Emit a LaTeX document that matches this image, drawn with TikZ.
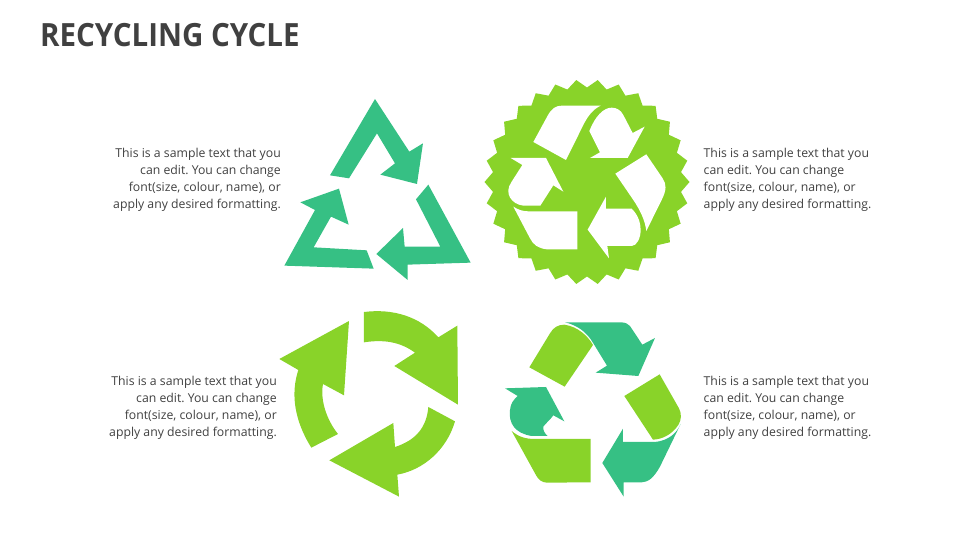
\documentclass[tikz,border=0pt]{standalone}
\usepackage{fontspec}
\setmainfont{Open Sans}
\newfontfamily\tieufont[FakeStretch=.922]{Open Sans}
\frenchspacing
\definecolor{xanh}{HTML}{36C084}
\definecolor{chanh}{HTML}{89D329}
\definecolor{chu}{HTML}{404040}
\newcommand{\mau}{This is a sample text that you\\can edit. You can change\\font(size, colour, name), or\\apply any desired formatting.}
\begin{document}
\begin{tikzpicture}[x=1pt,y=-1pt]
	\tikzset{
		every node/.style={font=\fontsize{12.25}{17}\selectfont,text=chu,inner sep=0},
		traitext/.style={anchor=east,align=right},
		phaitext/.style={anchor=west,align=left},
		%
		tamgiac/.pic={\fill[xanh] (300,27)--(403,185)--(444,160)--(426,282)--(316,254)--(360,220)--(306,130)--(222,265)--(165,256)--cycle
			(460,284)--(587,518)--(398,524)--(398,570)--(304,492)--(384,414)--(389,470)--(496,470)--(423,328)--cycle
			(28,527)--(120,360)--(76,337)--(192,296)--(221,404)--(168,380)--(116,472)--(275,481)--(296,536)--cycle;},
		% Huy hieu
		huyhieu/.pic={\fill[white] (160,201)--(203,122)..controls(215,100)and(228,92)..(245,92)--(362,92)..controls(335,105)and(320,130)..(310,150)--(258,255)--cycle
			(328,168)..controls(345,125)and(370,98)..(395,98)..controls(410,98)and(422,105)..(430,120)--(458,174)--(494,155)--(443,249)--(330,249)--(360,232)--cycle
			(406,296)--(499,238)--(548,310)..controls(560,328)and(560,345)..(545,375)--(499,468)..controls(495,435)and(480,405)..(460,375)--cycle
			(378,365)--(378,401)--(455,401)..controls(475,420)and(482,445)..(482,465)..controls(482,490)and(470,513)..(455,513)--(382,513)--(387,550)--(323,464)--cycle
			(100,395)..controls(115,405)and(130,409)..(145,409)--(292,409)--(292,523)--(200,523)..controls(175,520)and(160,510)..(150,490)--cycle
			(92,249)--(198,249)--(250,350)--(220,331)--(181,392)--(130,392)..controls(95,388)and(70,355)..(95,320)--(127,270)--cycle;},
		% Vong tron
		vongtron/.pic={\fill[chanh] (282,36)..controls(370,25)and(450,50)..(505,112)--(562,77)--(564,314)--(373,198)--(435,158)..controls(390,125)and(340,118)..(282,127)--cycle
			(28,177)--(237,63)--(222,286)--(159,252)..controls(150,300)and(170,360)..(204,402)--(124,443)..controls(72,360)and(62,280)..(85,210)--cycle
			(178,481)--(370,369)--(375,441)..controls(440,420)and(470,380)..(475,321)--(555,364)..controls(530,450)and(460,510)..(382,524)--(387,590)--cycle;},
		% Hai mau
		haimau/.pic={\fill[xanh] (210,37)--(380,37)..controls(392,38)and(400,42)..(405,48)--(442,104)--(480,84)--(430,198)--(302,188)--(336,167)--(295,100)..controls(275,65)and(245,45)..(210,37)--cycle
			(384,356)--(384,396)--(480,396)..controls(520,392)and(545,370)..(557,342)--(495,470)..controls(475,505)and(460,516)..(440,517)--(386,517)--(386,560)--(322,459)--cycle
			(30,235)--(153,231)--(208,334)--(175,316)..controls(165,330)and(152,340)..(145,350)..controls(143,360)and(150,372)..(158,378)--(110,378)..controls(60,370)and(40,340)..(45,300)..controls(47,280)and(55,270)..(68,258)--cycle;
			\fill[chanh] (103,172)--(165,70)..controls(175,52)and(190,44)..(208,44)..controls(250,50)and(280,80)..(294,105)--(209,230)--cycle
			(388,258)--(494,193)--(552,295)..controls(560,310)and(560,330)..(550,345)..controls(530,375)and(500,388)..(474,389)--cycle
			(50,363)..controls(70,380)and(90,387)..(120,387)--(287,387)--(287,517)--(155,518)..controls(140,517)and(130,510)..(120,490)--cycle;},
	}
	%
	\useasboundingbox (0,0) rectangle (960,540);
	\node[anchor=west,font=\fontsize{32}{38}\tieufont\bfseries] (tieude) at (40,35) {RECYCLING CYCLE};
	%
	\draw
	(275,90)pic[scale=.3333,local bounding box =tg]{tamgiac}
	(270,300)pic[scale=.3333,local bounding box =vt]{vongtron}
	(495,310)pic[scale=.3333,local bounding box =hm]{haimau}
	;
	% 30 rang
	\fill[chanh,shift={(587,182)}] (0:102.5) \foreach \k in {1,...,29}{--({\k*12-6}:94.5)--({\k*12}:102.5)} --(354:94.5)--cycle;
	\draw (480,75)pic[scale=.3333,local bounding box =hh]{huyhieu};
	%
	\node[traitext] (chu1) at (281,180) {\mau};
	\node[phaitext] (chu2) at (703.5,180) {\mau};
	\node[traitext] (chu3) at (277,408) {\mau};
	\node[phaitext] (chu4) at (703.5,408) {\mau};
\end{tikzpicture}
\end{document}
